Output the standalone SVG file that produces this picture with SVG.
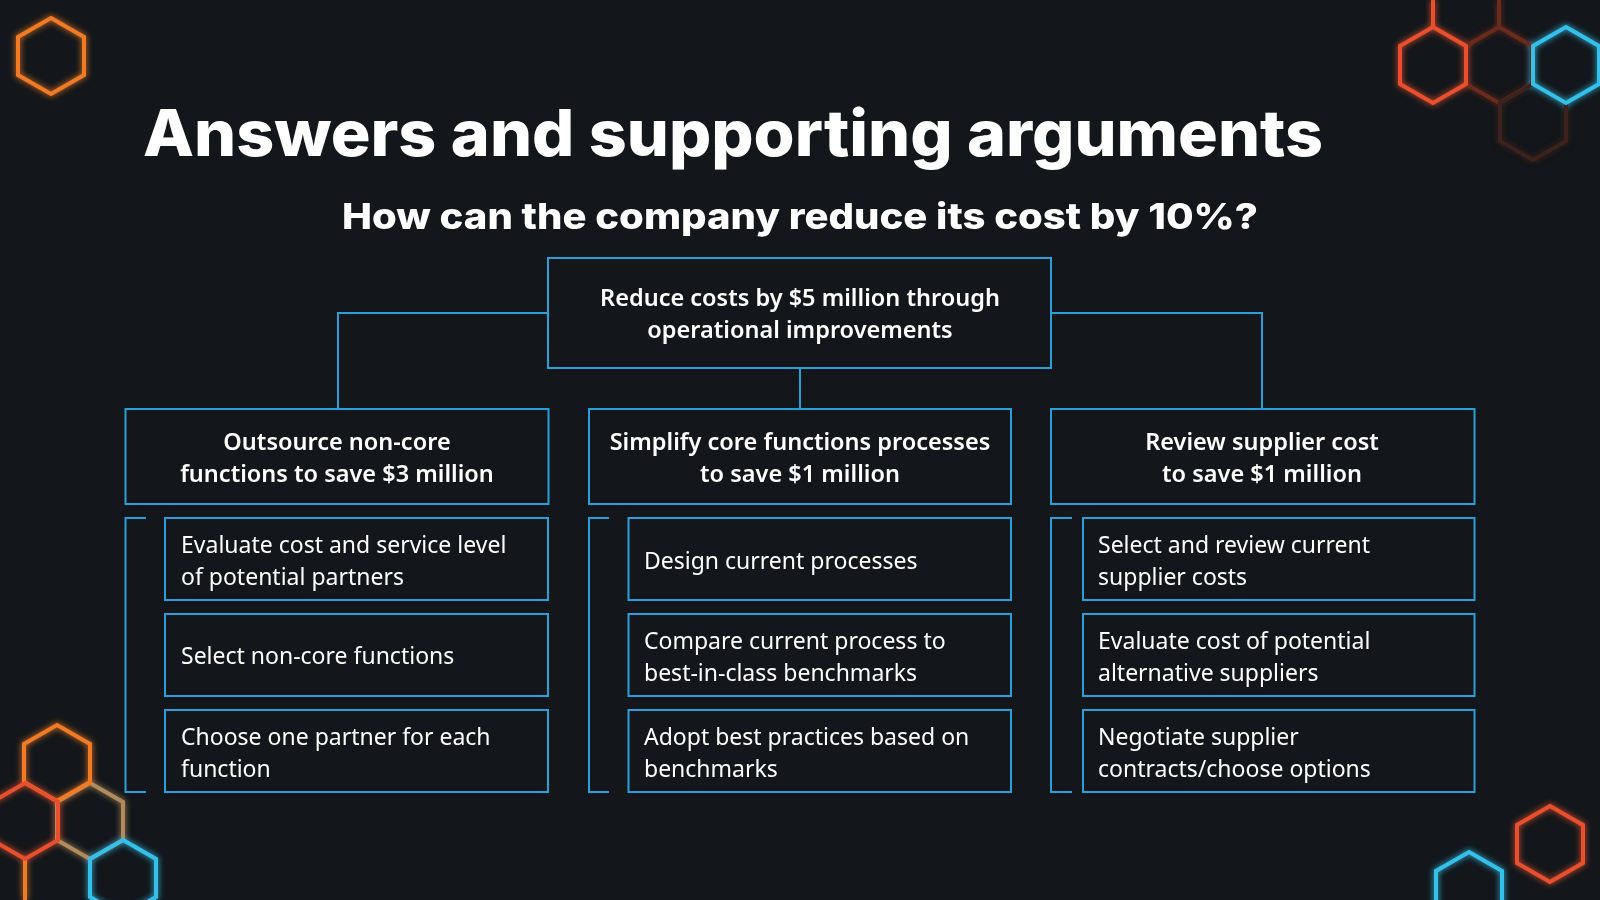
<svg xmlns="http://www.w3.org/2000/svg" width="1600" height="900" viewBox="0 0 1600 900">
<defs>
<filter id="glow" x="-50%" y="-50%" width="200%" height="200%"><feGaussianBlur stdDeviation="3" result="b"/><feMerge><feMergeNode in="b"/><feMergeNode in="SourceGraphic"/></feMerge></filter>
<path id="hex" d="M0,-38 L33,-19 L33,19 L0,38 L-33,19 L-33,-19 Z" fill="none" stroke-width="4"/>
</defs>
<style>
.box{fill:none;stroke:#2a9fd6;stroke-width:2}
.con{fill:none;stroke:#2a9fd6;stroke-width:2}
.h{font-family:"Noto Sans",sans-serif;font-weight:600;font-size:23.5px;fill:#fff;text-anchor:middle}
.l{font-family:"Noto Sans",sans-serif;font-size:23px;fill:#fff}
</style>
<rect width="1600" height="900" fill="#13171b"/>
<g id="decor" filter="url(#glow)">
<use href="#hex" x="51" y="56" stroke="#f07a26"/>
<line x1="1433" y1="0" x2="1433" y2="27" stroke="#e8502e" stroke-width="4"/>
<line x1="1499" y1="0" x2="1499" y2="27" stroke="#6b2a1e" stroke-width="4"/>
<use href="#hex" x="1499" y="65" stroke="#6b2a1e"/>
<use href="#hex" x="1533" y="122" stroke="#3a221e"/>
<use href="#hex" x="1433" y="65" stroke="#e8502e"/>
<use href="#hex" x="1566" y="65" stroke="#35c0ea"/>
<use href="#hex" x="90" y="821" stroke="#b08c5c"/>
<use href="#hex" x="57" y="763" stroke="#f07a26"/>
<line x1="25" y1="859" x2="25" y2="900" stroke="#f07a26" stroke-width="4"/>
<use href="#hex" x="25" y="821" stroke="#e8502e"/>
<use href="#hex" x="123" y="878" stroke="#35c0ea"/>
<use href="#hex" x="1550" y="844" stroke="#e8502e"/>
<use href="#hex" x="1469" y="890" stroke="#35c0ea"/>
</g>
<text x="143" y="156" font-family="Inter,Liberation Sans,sans-serif" font-weight="800" font-size="64" fill="#fff" textLength="1180" lengthAdjust="spacingAndGlyphs">Answers and supporting arguments</text>
<text x="800" y="229" font-family="Inter,Liberation Sans,sans-serif" font-weight="800" font-size="36" fill="#fff" text-anchor="middle" textLength="916" lengthAdjust="spacingAndGlyphs">How can the company reduce its cost by 10%?</text>
<g id="connectors">
<polyline class="con" points="548,313 338,313 338,409"/>
<polyline class="con" points="1051,313 1262,313 1262,409"/>
<line class="con" x1="800" y1="368" x2="800" y2="409"/>
<polyline class="con" points="146,518 125.5,518 125.5,792 146,792"/>
<polyline class="con" points="609,518 589,518 589,792 609,792"/>
<polyline class="con" points="1072,518 1051,518 1051,792 1072,792"/>
</g>
<g id="root"><rect class="box" x="548" y="258" width="503" height="110"/><text class="h" x="800" y="306">Reduce costs by $5 million through</text><text class="h" x="800" y="338">operational improvements</text></g>
<g id="b1"><rect class="box" x="125.5" y="409" width="423" height="95"/><text class="h" x="337" y="450">Outsource non-core</text><text class="h" x="337" y="482">functions to save $3 million</text></g>
<g id="b2"><rect class="box" x="589" y="409" width="422" height="95"/><text class="h" x="800" y="450">Simplify core functions processes</text><text class="h" x="800" y="482">to save $1 million</text></g>
<g id="b3"><rect class="box" x="1051" y="409" width="423.5" height="95"/><text class="h" x="1262" y="450">Review supplier cost</text><text class="h" x="1262" y="482">to save $1 million</text></g>
<g id="l11"><rect class="box" x="165" y="518" width="383" height="82"/><text class="l" x="181" y="553">Evaluate cost and service level</text><text class="l" x="181" y="585">of potential partners</text></g>
<g id="l12"><rect class="box" x="165" y="614" width="383" height="82"/><text class="l" x="181" y="664">Select non-core functions</text></g>
<g id="l13"><rect class="box" x="165" y="710" width="383" height="82"/><text class="l" x="181" y="745">Choose one partner for each</text><text class="l" x="181" y="777">function</text></g>
<g id="l21"><rect class="box" x="628.5" y="518" width="382.5" height="82"/><text class="l" x="644" y="569">Design current processes</text></g>
<g id="l22"><rect class="box" x="628.5" y="614" width="382.5" height="82"/><text class="l" x="644" y="649">Compare current process to</text><text class="l" x="644" y="681">best-in-class benchmarks</text></g>
<g id="l23"><rect class="box" x="628.5" y="710" width="382.5" height="82"/><text class="l" x="644" y="745">Adopt best practices based on</text><text class="l" x="644" y="777">benchmarks</text></g>
<g id="l31"><rect class="box" x="1083" y="518" width="391.5" height="82"/><text class="l" x="1098" y="553">Select and review current</text><text class="l" x="1098" y="585">supplier costs</text></g>
<g id="l32"><rect class="box" x="1083" y="614" width="391.5" height="82"/><text class="l" x="1098" y="649">Evaluate cost of potential</text><text class="l" x="1098" y="681">alternative suppliers</text></g>
<g id="l33"><rect class="box" x="1083" y="710" width="391.5" height="82"/><text class="l" x="1098" y="745">Negotiate supplier</text><text class="l" x="1098" y="777">contracts/choose options</text></g>
</svg>
